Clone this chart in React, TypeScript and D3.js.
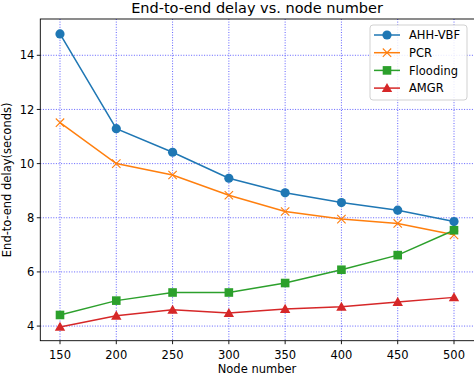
import React from "react";
import * as d3 from "d3";

const nodes = [150, 200, 250, 300, 350, 400, 450, 500];
const ahhVbf = [14.79, 11.29, 10.42, 9.46, 8.92, 8.56, 8.28, 7.86];
const pcr = [11.51, 10.0, 9.58, 8.83, 8.23, 7.95, 7.79, 7.37];
const flooding = [4.41, 4.94, 5.24, 5.24, 5.59, 6.08, 6.62, 7.54];
const amgr = [3.97, 4.38, 4.6, 4.48, 4.63, 4.71, 4.89, 5.06];
const yTicks = [4, 6, 8, 10, 12, 14];
const seriesNames = ["AHH-VBF", "PCR", "Flooding", "AMGR"];
const colors = ["#1f77b4", "#ff7f0e", "#2ca02c", "#d62728"];
const markers = ["circle", "x", "square", "triangle"];

const W = 474, H = 376;
const left = 40.3, right = 473.7, top = 19, bottom = 340.7;

function Marker({ type, x, y, color }: { type: string; x: number; y: number; color: string }) {
  if (type === "circle") return <circle cx={x} cy={y} r={4.6} fill={color} />;
  if (type === "square") return <rect x={x - 4.3} y={y - 4.3} width={8.6} height={8.6} fill={color} />;
  if (type === "triangle") {
    const s = 5.2;
    return <path d={`M${x},${y - s} L${x + s},${y + s * 0.75} L${x - s},${y + s * 0.75}Z`} fill={color} />;
  }
  const s = 4.2;
  return (
    <path d={`M${x - s},${y - s}L${x + s},${y + s}M${x - s},${y + s}L${x + s},${y - s}`} stroke={color} strokeWidth={1.1} fill="none" />
  );
}

export default function App() {
  const x = d3.scaleLinear().domain([132.5, 517.5]).range([left, right]);
  const y = d3.scaleLinear().domain([3.46, 15.34]).range([bottom, top]);
  const data = [ahhVbf, pcr, flooding, amgr];
  const line = d3.line<number>().x((_, i) => x(nodes[i])).y((d) => y(d));
  const font = "DejaVu Sans, sans-serif";
  return (
    <svg width={W} height={H} style={{ position: "absolute", left: 0, top: 0, background: "#fff" }} fontFamily={font}>
      <rect x={0} y={0} width={W} height={H} fill="#fff" />
      {nodes.map((n) => (
        <line key={"gx" + n} x1={x(n)} x2={x(n)} y1={top} y2={bottom} stroke="#3333ff" strokeWidth={0.9} strokeDasharray="1,1.6" opacity={0.85} />
      ))}
      {yTicks.map((t) => (
        <line key={"gy" + t} x1={left} x2={W} y1={y(t)} y2={y(t)} stroke="#3333ff" strokeWidth={0.9} strokeDasharray="1,1.6" opacity={0.85} />
      ))}
      {data.map((vals, si) => (
        <g key={seriesNames[si]}>
          <path d={line(vals) || ""} fill="none" stroke={colors[si]} strokeWidth={1.5} />
          {vals.map((v, i) => (
            <Marker key={i} type={markers[si]} x={x(nodes[i])} y={y(v)} color={colors[si]} />
          ))}
        </g>
      ))}
      <rect x={left} y={top} width={right - left + 2} height={bottom - top} fill="none" stroke="#000" strokeWidth={0.9} />
      {nodes.map((n) => (
        <g key={"tx" + n}>
          <line x1={x(n)} x2={x(n)} y1={bottom} y2={bottom + 3.5} stroke="#000" strokeWidth={0.9} />
          <text x={x(n)} y={bottom + 18} textAnchor="middle" fontSize={11.5} fill="#000">{n}</text>
        </g>
      ))}
      {yTicks.map((t) => (
        <g key={"ty" + t}>
          <line x1={left - 3.5} x2={left} y1={y(t)} y2={y(t)} stroke="#000" strokeWidth={0.9} />
          <text x={left - 6} y={y(t) + 4.2} textAnchor="end" fontSize={11.5} fill="#000">{t}</text>
        </g>
      ))}
      <text x={257} y={12.5} textAnchor="middle" fontSize={14.5} fill="#000">End-to-end delay vs. node number</text>
      <text x={257} y={372.5} textAnchor="middle" fontSize={11.5} fill="#000">Node number</text>
      <text transform={`translate(10.5,${(top + bottom) / 2}) rotate(-90)`} textAnchor="middle" fontSize={11.5} fill="#000">End-to-end delay(seconds)</text>
      <g>
        <rect x={370} y={25} width={97} height={75} rx={3} fill="#fff" fillOpacity={0.85} stroke="#ccc" strokeWidth={0.9} />
        {seriesNames.map((name, i) => {
          const ly = 35 + i * 17.7;
          return (
            <g key={name}>
              <line x1={374} x2={400} y1={ly} y2={ly} stroke={colors[i]} strokeWidth={1.5} />
              <Marker type={markers[i]} x={387} y={ly} color={colors[i]} />
              <text x={409} y={ly + 4.2} fontSize={11.5} fill="#000">{name}</text>
            </g>
          );
        })}
      </g>
    </svg>
  );
}
